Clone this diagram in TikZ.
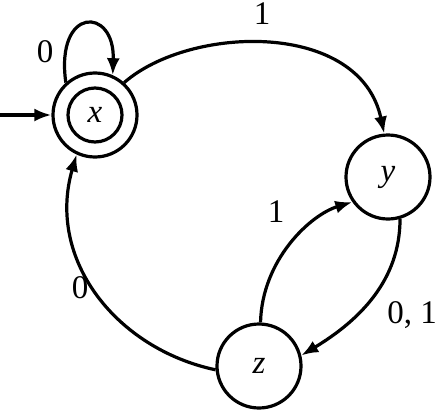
\documentclass[tikz,border=0pt]{standalone}
\usepackage{fontspec}
\setmainfont{Liberation Serif}
\usetikzlibrary{arrows.meta}
\begin{document}
\begin{tikzpicture}[x=1pt,y=-1pt,
  state/.style={draw,circle,line width=3.2pt,minimum size=84pt,inner sep=0pt,font=\fontsize{33}{40}\selectfont\itshape},
  edge/.style={line width=3.2pt,-{Latex[length=17pt,width=13pt]}},
  lab/.style={font=\fontsize{33}{40}\selectfont}]
\useasboundingbox (0,0) rectangle (443,412);
\node[state] (x) at (95,115) {x};
\draw[line width=3.2pt] (x.center) circle (27pt);
\node[state] (y) at (388,177) {y};
\node[state] (z) at (259,366) {z};
\coordinate (s) at (0,115);
\draw[edge] (s) -- (x);
\draw[edge] (x.132) .. controls (55,6) and (115,6) .. (x.66);
\draw[edge] (x.48) .. controls (190,25) and (360,20) .. (y.95);
\draw[edge] (y.-74) .. controls (400,280) and (360,320) .. (z.14);
\draw[edge] (z.88) .. controls (262,260) and (310,215) .. (y.215);
\draw[edge] (z.185) .. controls (117,349) and (46,260) .. (x.-115);
\node[lab] (l1) at (45,52) {0};
\node[lab] (l2) at (262,14) {1};
\node[lab] (l3) at (276,212) {1};
\node[lab] (l4) at (412,315) {0, 1};
\node[lab] (l5) at (80,288) {0};
\end{tikzpicture}
\end{document}
